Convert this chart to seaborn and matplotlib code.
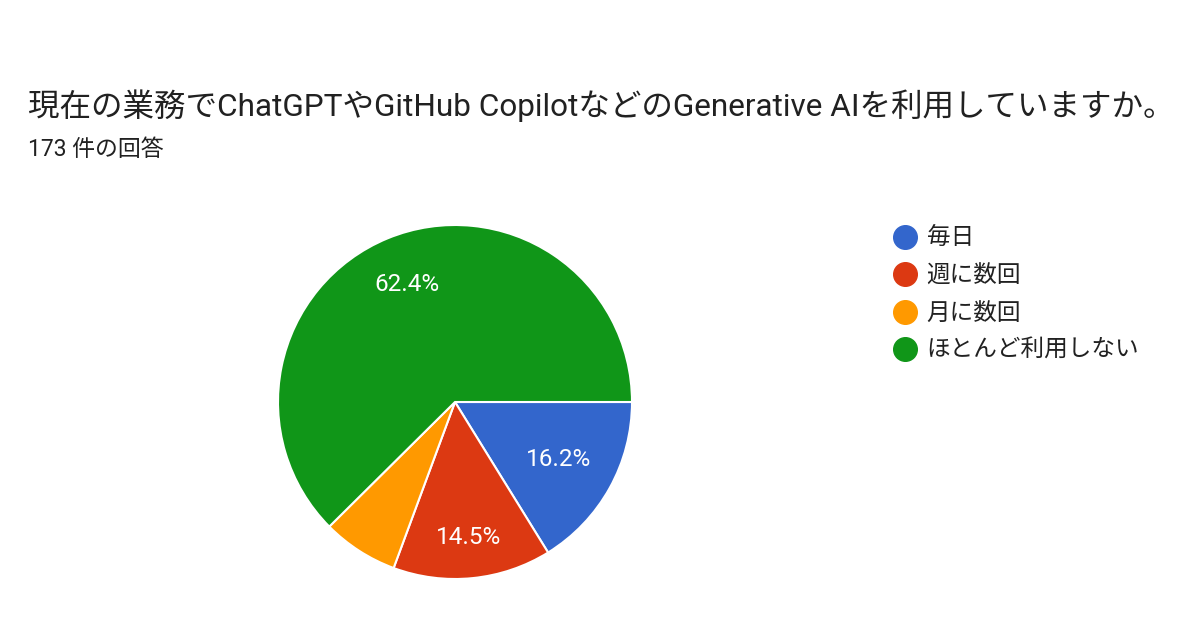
import matplotlib.pyplot as plt
from matplotlib.lines import Line2D
import seaborn as sns
import numpy as np

# %% Data
title = '現在の業務でChatGPTやGitHub CopilotなどのGenerative AIを利用していますか。'
subtitle = '173 件の回答'
labels = ['毎日', '週に数回', '月に数回', 'ほとんど利用しない']
counts = [28, 25, 12, 108]
colors = ['#3366cc', '#dc3912', '#ff9900', '#109618']

# %% Style
sns.set_theme(style='white')
plt.rcParams['font.family'] = ['Roboto', 'Noto Sans CJK JP', 'DejaVu Sans']

fig = plt.figure(figsize=(12, 6.3), dpi=100)
fig.patch.set_facecolor('white')

# pie axes: centre (455,402) px, radius 177 px
cx, cy, r = 455, 402, 177
ax = fig.add_axes([(cx - r) / 1200, (630 - cy - r) / 630, 2 * r / 1200, 2 * r / 630])

wedges, texts, autotexts = ax.pie(
    counts, colors=colors, startangle=0, counterclock=False,
    autopct=lambda p: f'{p:.1f}%' if p > 10 else '', pctdistance=0.72,
    wedgeprops=dict(edgecolor='white', linewidth=1.5),
    textprops=dict(color='white', fontsize=17.5))

# nudge labels to where the reference puts them
dist = [0.67, 0.77, 0.72, 0.72]
for t, d in zip(autotexts, dist):
    x, y = t.get_position()
    t.set_position((x / 0.72 * d, y / 0.72 * d))

ax.set_xlim(-1, 1)
ax.set_ylim(-1, 1)
ax.set_aspect('equal')
ax.axis('off')

# title & subtitle
fig.text(28 / 1200, 1 - 106 / 630, title, fontsize=22.7, color='#212121', va='center', ha='left')
fig.text(28 / 1200, 1 - 150 / 630, subtitle, fontsize=16.5, color='#212121', va='center', ha='left')

# legend
handles = [Line2D([0], [0], marker='o', linestyle='', markersize=17,
                  markerfacecolor=c, markeredgecolor=c) for c in colors]
fig.legend(handles, labels, loc='upper left', bbox_to_anchor=(884 / 1200, 1 - 218 / 630),
           frameon=False, fontsize=17, handletextpad=0.4, labelspacing=0.6,
           handlelength=1.0, borderaxespad=0, labelcolor='#212121')

plt.savefig('out.png', dpi=100, facecolor='white')
